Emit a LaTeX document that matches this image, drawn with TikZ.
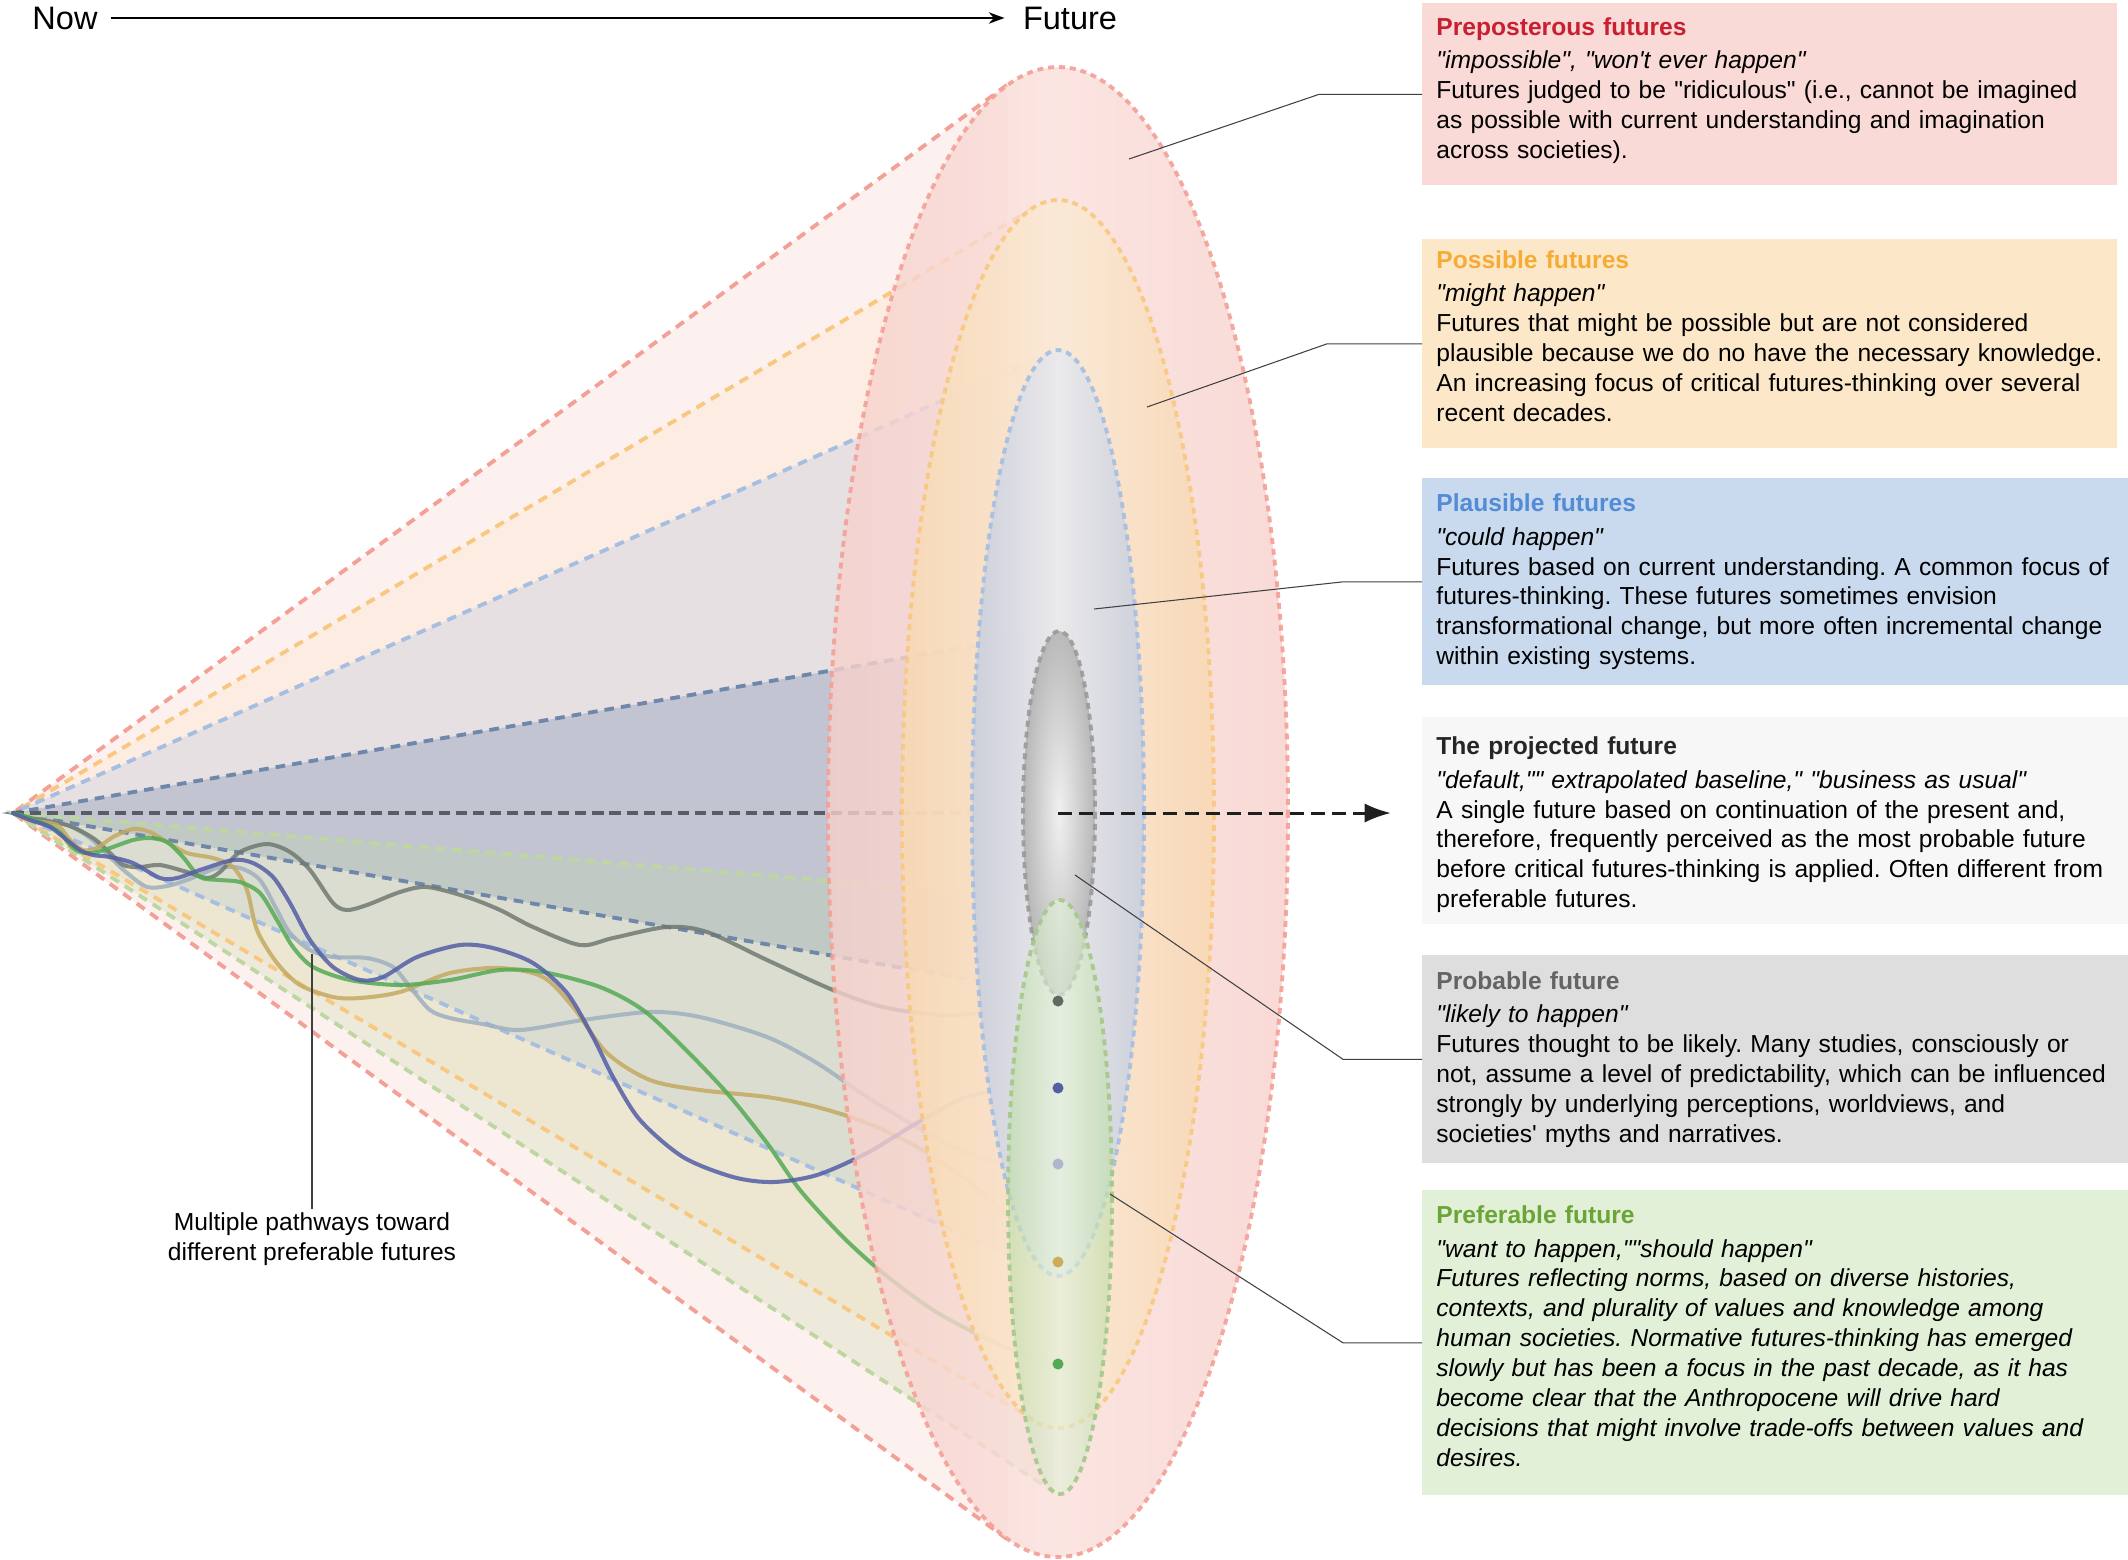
\documentclass[tikz,border=0pt]{standalone}
\usepackage{fontspec}
\setmainfont{Liberation Sans}
\newfontfamily\figfont{Liberation Sans}
\usetikzlibrary{arrows.meta, positioning, calc}
\definecolor{prepRed}{RGB}{200, 32, 50}
\definecolor{prepFill}{RGB}{249, 218, 214}
\definecolor{prepLine}{RGB}{243, 160, 150}
\definecolor{prepEdge}{RGB}{247, 208, 203}
\definecolor{prepMid}{RGB}{250, 222, 218}
\definecolor{possOrange}{RGB}{246, 172, 52}
\definecolor{possFill}{RGB}{252, 232, 200}
\definecolor{possLine}{RGB}{248, 200, 128}
\definecolor{possEdge}{RGB}{249, 217, 176}
\definecolor{possMid}{RGB}{251, 234, 212}
\definecolor{plausBlue}{RGB}{82, 140, 214}
\definecolor{plausFill}{RGB}{201, 217, 238}
\definecolor{plausLine}{RGB}{165, 190, 225}
\definecolor{plausEdge}{RGB}{195, 205, 225}
\definecolor{plausMid}{RGB}{231, 234, 241}
\definecolor{projFill}{RGB}{247, 247, 247}
\definecolor{probGrey}{RGB}{100, 100, 100}
\definecolor{probFill}{RGB}{222, 222, 222}
\definecolor{probLine}{RGB}{110, 135, 170}
\definecolor{prefGreen}{RGB}{108, 165, 55}
\definecolor{prefFill}{RGB}{225, 240, 214}
\definecolor{prefLine}{RGB}{190, 215, 160}
\definecolor{prefRim}{RGB}{165, 200, 138}
\definecolor{prefEdge}{RGB}{192, 222, 170}
\definecolor{prefMid}{RGB}{228, 241, 218}
\definecolor{axisGrey}{RGB}{88, 92, 100}
\definecolor{curveGrey}{RGB}{112, 122, 114}
\definecolor{curveBlue}{RGB}{84, 94, 165}
\definecolor{curveLight}{RGB}{158, 176, 190}
\definecolor{curveTan}{RGB}{196, 170, 98}
\definecolor{curveGreen}{RGB}{84, 170, 84}
\definecolor{dotGrey}{RGB}{95, 106, 96}
\definecolor{dotLight}{RGB}{172, 182, 204}
\definecolor{dotTan}{RGB}{205, 172, 90}
\tikzset{
  infobox/.style={
    rectangle, anchor=north west,
    inner xsep=8pt, inner ysep=0pt,
    text width=13.56cm, align=left,
    font=\figfont\fontsize{14}{17}\selectfont\frenchspacing
  },
  conefill/.style={fill=#1, fill opacity=0.15},
  coneedge/.style={draw=#1, line width=2.2pt, dash pattern=on 5.5pt off 4pt},
  orbit/.style={
    draw=#1, draw opacity=0.9,
    line width=2.2pt, dash pattern=on 3.4pt off 2.8pt,
    fill opacity=0.8
  },
  pathline/.style={draw=#1, line width=2.3pt, opacity=0.85, line cap=round},
  futdot/.style={circle, fill=#1, inner sep=0pt, minimum size=6.3pt},
  leader/.style={draw=black!75, line width=0.6pt},
  timearrow/.style={
    -{Stealth[length=9pt,width=6.5pt]},
    line width=0.9pt, shorten <=4pt, shorten >=7pt
  },
  projarrow/.style={
    -{Latex[length=15pt,width=11pt]},
    line width=1.7pt, dash pattern=on 8pt off 4pt
  }
}
\begin{document}
\begin{tikzpicture}[x=0.02cm, y=-0.02cm]
  \useasboundingbox (0,0) rectangle (2128,1559);

  \coordinate (now) at (13,813);
  \coordinate (ctr) at (1058,813);
  \coordinate (p1) at (1058,1001);
  \coordinate (p2) at (1058,1088);
  \coordinate (p3) at (1058,1164);
  \coordinate (p4) at (1058,1262);
  \coordinate (p5) at (1058,1364);

  % cones
  \fill[conefill=prepLine] (now) -- (1007,85) -- (1007,1539) -- cycle;
  \fill[conefill=possLine, fill opacity=0.12] (now) -- (1035,207) -- (1035,1421) -- cycle;
  \fill[conefill=plausLine, fill opacity=0.25] (now) -- (1051,352) -- (1051,1274) -- cycle;
  \fill[conefill=probLine, fill opacity=0.3] (now) -- (1058,631) -- (1058,995) -- cycle;
  \fill[conefill=prefLine, fill opacity=0.25] (now) -- (1061,900) -- (1054,1492) -- cycle;

  \draw[coneedge=prepLine] (1007,85) -- (now) -- (1007,1539);
  \draw[coneedge=possLine] (1035,207) -- (now) -- (1035,1421);
  \draw[coneedge=plausLine] (1051,352) -- (now) -- (1051,1274);
  \draw[coneedge=probLine] (1058,631) -- (now) -- (1058,995);
  \draw[coneedge=prefLine] (1061,900) -- (now) -- (1054,1492);

  \draw[axisGrey, line width=2.3pt, dash pattern=on 6.3pt off 3.4pt] (now) -- (ctr);

  % pathways
  \draw[pathline=curveLight] plot[smooth, tension=0.5] coordinates {(now) (30,818) (67,825) (90,838) (110,857) (127,873) (147,887) (167,886) (187,880) (217,868) (240,868) (260,880) (277,910) (290,933) (310,950) (333,957) (367,958) (393,967) (410,987) (430,1010) (450,1018) (483,1024) (520,1030) (583,1020) (650,1012) (700,1017) (767,1037) (817,1063) (867,1097) (917,1127) (967,1153) (1020,1167) (p3)};
  \draw[pathline=curveGrey] plot[smooth, tension=0.5] coordinates {(now) (30,818) (67,825) (93,838) (110,853) (123,865) (140,867) (160,865) (187,872) (207,878) (220,872) (240,852) (267,844) (290,852) (310,870) (333,903) (347,910) (367,905) (400,892) (427,887) (467,897) (500,910) (533,927) (580,945) (613,938) (667,927) (707,932) (767,960) (833,990) (883,1007) (940,1015) (983,1013) (1020,1008) (p1)};
  \draw[pathline=curveTan] plot[smooth, tension=0.5] coordinates {(now) (30,820) (57,825) (70,840) (83,850) (97,848) (113,837) (133,829) (150,832) (167,842) (187,853) (213,858) (233,867) (247,890) (257,930) (277,963) (300,985) (333,997) (360,998) (400,992) (450,973) (500,968) (543,977) (573,1007) (607,1053) (650,1080) (700,1090) (767,1097) (817,1107) (867,1123) (917,1147) (967,1180) (1020,1227) (p4)};
  \draw[pathline=curveGreen] plot[smooth, tension=0.5] coordinates {(now) (30,818) (57,830) (70,845) (80,852) (93,853) (110,848) (133,840) (150,838) (167,842) (183,857) (200,877) (220,880) (240,882) (260,893) (277,920) (293,947) (313,967) (350,980) (400,985) (450,980) (500,970) (543,972) (600,987) (643,1010) (683,1047) (727,1093) (767,1143) (800,1190) (843,1237) (883,1273) (933,1310) (983,1337) (1020,1353) (p5)};
  \draw[pathline=curveBlue] plot[smooth, tension=0.5] coordinates {(now) (30,820) (50,827) (67,840) (80,850) (93,855) (110,857) (133,863) (160,878) (177,878) (200,870) (233,860) (253,863) (273,877) (290,903) (310,940) (333,967) (360,980) (383,977) (417,957) (460,945) (493,948) (533,963) (567,993) (593,1037) (613,1077) (640,1120) (683,1157) (733,1177) (773,1182) (817,1175) (867,1153) (917,1123) (967,1097) (1020,1087) (p2)};

  % futures
  \draw[orbit=prepLine, left color=prepEdge, right color=prepEdge, middle color=prepMid] (1058,812) ellipse [x radius=230, y radius=745];
  \draw[orbit=possLine, left color=possEdge, right color=possEdge, middle color=possMid] (1058,814) ellipse [x radius=156, y radius=614];
  \draw[orbit=plausLine, left color=plausEdge, right color=plausEdge, middle color=plausMid] (1058,813) ellipse [x radius=86, y radius=463];
  \draw[orbit=probGrey!65, inner color=black!5, outer color=black!32] (1059,813) ellipse [x radius=36, y radius=182];
  \draw[orbit=prefRim, fill opacity=0.65, left color=prefEdge, right color=prefEdge, middle color=prefMid] (1060,1197) ellipse [x radius=52, y radius=297];

  \node[futdot=dotGrey] (d1) at (p1) {};
  \node[futdot=curveBlue] (d2) at (p2) {};
  \node[futdot=dotLight] (d3) at (p3) {};
  \node[futdot=dotTan] (d4) at (p4) {};
  \node[futdot=curveGreen] (d5) at (p5) {};

  \coordinate (projend) at (1391,813);
  \draw[projarrow, black!88] (ctr) -- (projend);

  % time axis
  \node[font=\figfont\fontsize{18.5}{22}\selectfont] (nowlbl) at (65,18) {Now};
  \node[font=\figfont\fontsize{18.5}{22}\selectfont] (futlbl) at (1070,18) {Future};
  \draw[timearrow] (nowlbl) -- (futlbl);

  % boxes
  \node[infobox, fill=prepFill, text width=13.34cm, text depth=77.5pt, minimum height=3.64cm] (prep) at (1422,3) {%
    \textcolor{prepRed}{\textbf{Preposterous futures}}\\[2pt]
    \textit{"impossible", "won't ever happen"}\\
    Futures judged to be "ridiculous" (i.e., cannot be imagined\\
    as possible with current understanding and imagination\\
    across societies).};
  \node[infobox, fill=possFill, text width=13.34cm, text depth=96.2pt, minimum height=4.18cm] (poss) at (1422,239) {%
    \textcolor{possOrange}{\textbf{Possible futures}}\\[2pt]
    \textit{"might happen"}\\
    Futures that might be possible but are not considered\\
    plausible because we do no have the necessary knowledge.\\
    An increasing focus of critical futures-thinking over several\\
    recent decades.};
  \node[infobox, fill=plausFill, minimum height=4.14cm] (plaus) at (1422,478) {%
    \textcolor{plausBlue}{\textbf{Plausible futures}}\\[2pt]
    \textit{"could happen"}\\
    Futures based on current understanding. A common focus of\\
    futures-thinking. These futures sometimes envision\\
    transformational change, but more often incremental change\\
    within existing systems.};
  \node[infobox, fill=projFill, text depth=85.3pt, minimum height=4.14cm] (proj) at (1422,717) {%
    \textcolor{black!85}{\textbf{The projected future}}\\[2pt]
    \textit{"default,"" extrapolated baseline," "business as usual"}\\
    A single future based on continuation of the present and,\\
    therefore, frequently perceived as the most probable future\\
    before critical futures-thinking is applied. Often different from\\
    preferable futures.};
  \node[infobox, fill=probFill, minimum height=4.16cm] (prob) at (1422,955) {%
    \textcolor{probGrey}{\textbf{Probable future}}\\[2pt]
    \textit{"likely to happen"}\\
    Futures thought to be likely. Many studies, consciously or\\
    not, assume a level of predictability, which can be influenced\\
    strongly by underlying perceptions, worldviews, and\\
    societies' myths and narratives.};
  \node[infobox, fill=prefFill, text depth=145.8pt, minimum height=6.1cm] (pref) at (1422,1190) {%
    \textcolor{prefGreen}{\textbf{Preferable future}}\\[2pt]
    \textit{"want to happen,""should happen"}\\
    \textit{Futures reflecting norms, based on diverse histories,}\\
    \textit{contexts, and plurality of values and knowledge among}\\
    \textit{human societies. Normative futures-thinking has emerged}\\
    \textit{slowly but has been a focus in the past decade, as it has}\\
    \textit{become clear that the Anthropocene will drive hard}\\
    \textit{decisions that might involve trade-offs between values and}\\
    \textit{desires.}};

  % leaders
  \coordinate (tipA) at (1129,159);
  \coordinate (tipB) at (1147,407);
  \coordinate (tipC) at (1094,609);
  \coordinate (tipD) at (1075,875);
  \coordinate (tipE) at (1110,1194);
  \draw[leader] (tipA) -- ($(prep.west)+(-103,0)$) -- (prep.west);
  \draw[leader] (tipB) -- ($(poss.west)+(-95,0)$) -- (poss.west);
  \draw[leader] (tipC) -- ($(plaus.west)+(-79,0)$) -- (plaus.west);
  \draw[leader] (tipD) -- ($(prob.west)+(-79,0)$) -- (prob.west);
  \draw[leader] (tipE) -- ($(pref.west)+(-79,0)$) -- (pref.west);

  \node[align=center, inner sep=2pt, font=\figfont\fontsize{14}{17}\selectfont] (multi) at (312,1239) {Multiple pathways toward\\different preferable futures};
  \coordinate (tipM) at (312,954);
  \draw[leader] (tipM) -- (multi.north);
\end{tikzpicture}
\end{document}
